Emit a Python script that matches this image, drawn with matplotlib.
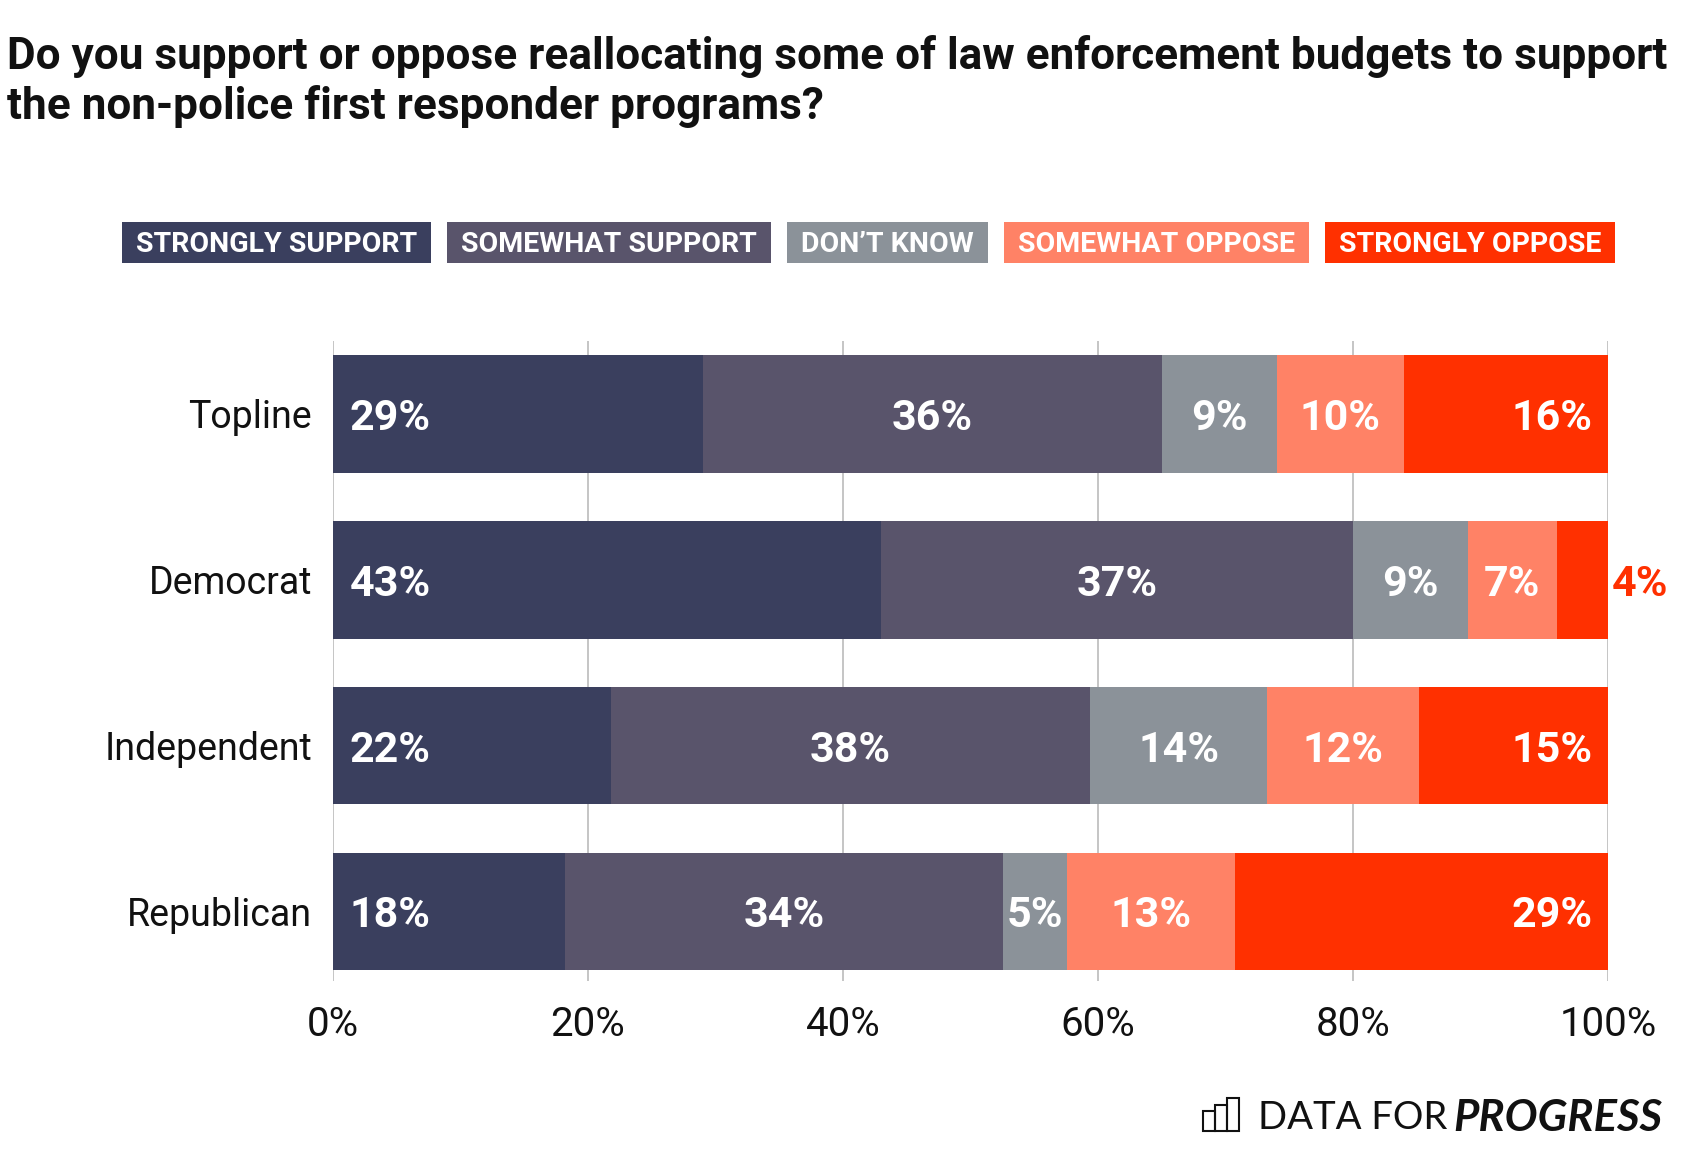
import numpy as np
import matplotlib.pyplot as plt
import matplotlib.transforms as mtransforms
from matplotlib.patches import Rectangle

groups = ["Topline", "Democrat", "Independent", "Republican"]
responses = ["STRONGLY SUPPORT", "SOMEWHAT SUPPORT", "DON\u2019T KNOW",
             "SOMEWHAT OPPOSE", "STRONGLY OPPOSE"]
strongly_support = [29, 43, 22, 18]
somewhat_support = [36, 37, 38, 34]
dont_know = [9, 9, 14, 5]
somewhat_oppose = [10, 7, 12, 13]
strongly_oppose = [16, 4, 15, 29]
colors = ["#3a3f5e", "#59546b", "#8b9299", "#ff8266", "#ff3000"]
xticks = [0, 20, 40, 60, 80, 100]

title = ("Do you support or oppose reallocating some of law enforcement budgets to support\n"
         "the non-police first responder programs?")

plt.rcParams["font.family"] = ["Roboto", "DejaVu Sans"]

W, H = 1700, 1172
fig = plt.figure(figsize=(W / 100, H / 100), dpi=100)
ax = fig.add_axes([333 / W, 1 - 981 / H, (1608 - 333) / W, (981 - 341) / H])

vals = np.array([strongly_support, somewhat_support, dont_know,
                 somewhat_oppose, strongly_oppose], dtype=float).T
# bars span the full 100% even where rounded labels don't add to 100
shares = vals / vals.sum(axis=1, keepdims=True) * 100
y = np.arange(len(groups))
bh = 0.71

for i in range(len(groups)):
    left = 0.0
    n = vals.shape[1]
    for j in range(n):
        w = shares[i, j]
        ax.barh(y[i], w, left=left, height=bh, color=colors[j], zorder=2)
        lab = f"{int(vals[i, j])}%"
        kw = dict(fontsize=31, fontweight="bold", color="white",
                  va="center_baseline", zorder=3, textcoords="offset points")
        if j == 0:
            ax.annotate(lab, (left, y[i]), xytext=(12, 0), ha="left", **kw)
        elif j == n - 1:
            if vals[i, j] < 5:
                kw["color"] = colors[j]
                ax.annotate(lab, (left + w, y[i]), xytext=(3, 0), ha="left",
                            annotation_clip=False, **kw)
            else:
                ax.annotate(lab, (left + w, y[i]), xytext=(-11, 0), ha="right", **kw)
        else:
            ax.annotate(lab, (left + w / 2, y[i]), xytext=(0, 0), ha="center", **kw)
        left += w

ax.set_xlim(0, 100)
ax.set_ylim(3.42, -0.44)
ax.set_yticks(y)
ax.set_yticklabels(groups, fontsize=27, color="#111111")
ax.set_xticks(xticks)
ax.set_xticklabels([f"{t}%" for t in xticks], fontsize=29, color="#111111")
shift = mtransforms.ScaledTranslation(6 / 100, 0, fig.dpi_scale_trans)
for tl in ax.get_xticklabels():
    tl.set_transform(tl.get_transform() + shift)
ax.tick_params(length=0)
ax.tick_params(axis="x", pad=17)
ax.tick_params(axis="y", pad=15)
ax.grid(axis="x", color="#bbbbbb", linewidth=1.2, zorder=0)
ax.set_axisbelow(True)
for s in ax.spines.values():
    s.set_visible(False)

fig.text(7 / W, 1 - 35 / H, title, fontsize=31.8, fontweight="bold",
         ha="left", va="top", linespacing=1.2, color="#111111")

# legend boxes, laid out left to right by measured text width
renderer = fig.canvas.get_renderer()
x0 = 122
pad = 14
for lab, c in zip(responses, colors):
    t = fig.text((x0 + pad) / W, 1 - 242 / H, lab, fontsize=20.5, fontweight="bold",
                 color="white", ha="left", va="center_baseline")
    bb = t.get_window_extent(renderer)
    x1 = bb.x1 + pad
    fig.add_artist(Rectangle((x0 / W, 1 - 263 / H), (x1 - x0) / W, 41 / H,
                             fc=c, ec="none", transform=fig.transFigure, zorder=0))
    x0 = x1 + 16

# logo
for k, hh in enumerate([20, 26, 33]):
    fig.add_artist(Rectangle(((1203 + k * 12) / W, 1 - 1131 / H), 12 / W, hh / H,
                             fill=False, ec="#111111", lw=1.5,
                             transform=fig.transFigure))
fig.text(1258 / W, 1 - 1118 / H, "DATA FOR", fontsize=27.5, family=["Lato", "DejaVu Sans"],
         fontweight="normal", ha="left", va="center", color="#111111")
fig.text(1453 / W, 1 - 1118 / H, "PROGRESS", fontsize=31.5, family=["Lato", "DejaVu Sans"],
         fontweight="bold", fontstyle="italic", ha="left", va="center", color="#111111")

fig.savefig("out.png", dpi=100, facecolor="white")
